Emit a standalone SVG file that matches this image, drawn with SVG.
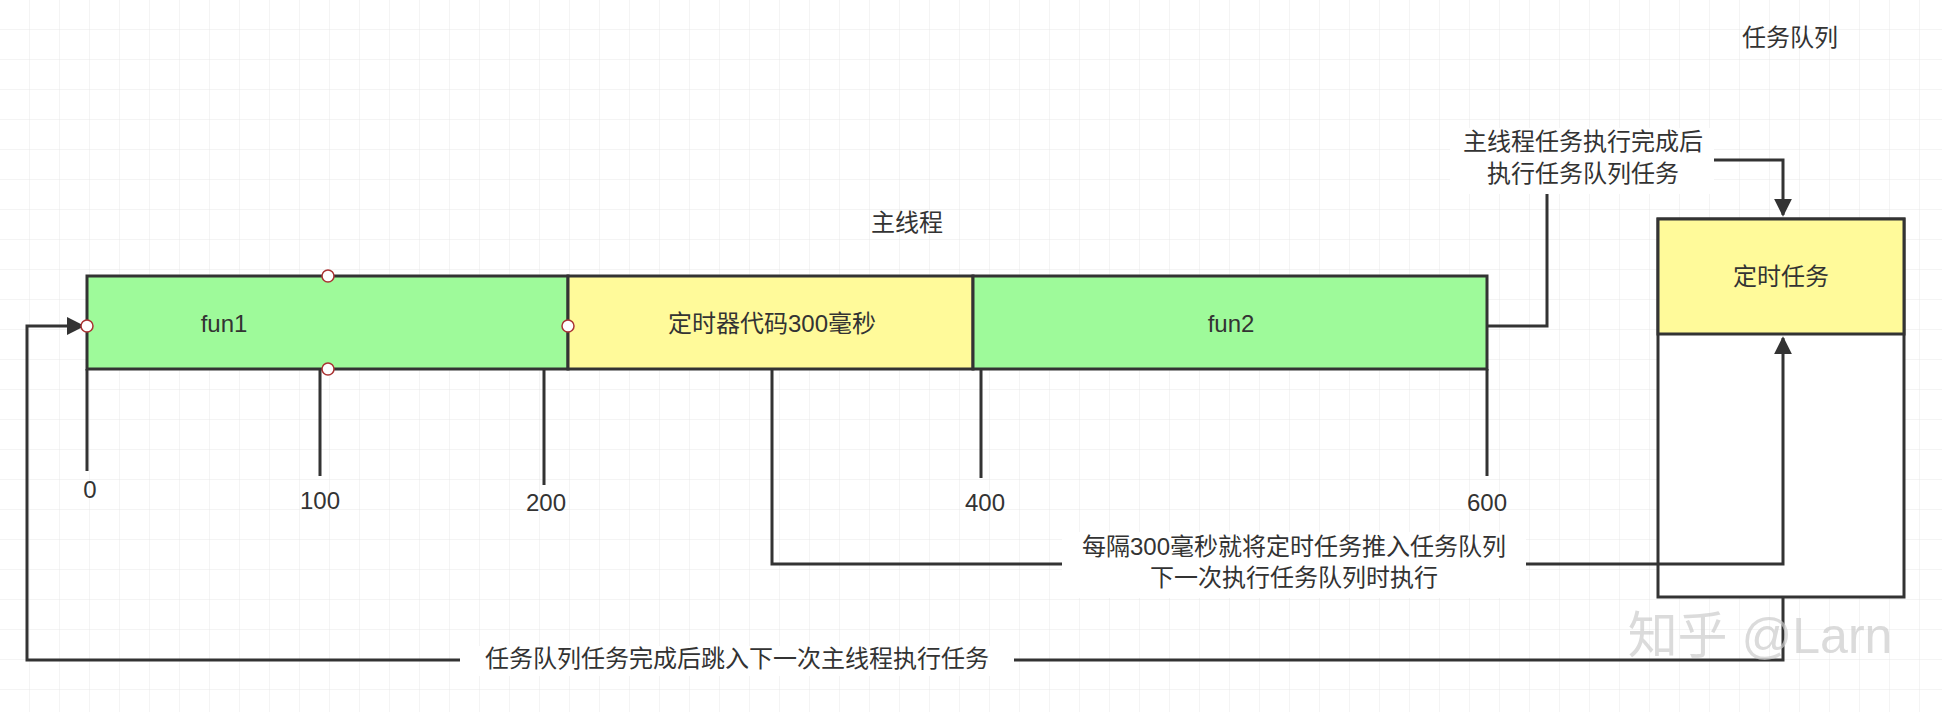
<svg xmlns="http://www.w3.org/2000/svg" width="1942" height="712" viewBox="0 0 1942 712">
<defs>
<pattern id="grid" width="30" height="30" patternUnits="userSpaceOnUse"><path d="M30 0V30M0 30H30" fill="none" stroke="#e8e8e8" stroke-width="1"/></pattern>
<marker id="arr" viewBox="0 0 10 10" refX="9" refY="5" markerWidth="6" markerHeight="6" orient="auto"><path d="M0,0L10,5L0,10z" fill="#333"/></marker>
<style>
text{font-family:"Liberation Sans","Noto Sans CJK SC",sans-serif;font-size:24px;fill:#333;text-anchor:middle;dominant-baseline:middle}
.box{stroke:#333;stroke-width:3}
.ln{fill:none;stroke:#333;stroke-width:3}
.pt{fill:#fff;stroke:#a33;stroke-width:1.5}
.bg{fill:#fff}
</style>
</defs>
<rect width="1942" height="712" fill="#fff"/>
<rect width="1942" height="712" fill="url(#grid)"/>
<text x="907" y="225">主线程</text>
<text x="1790" y="40">任务队列</text>
<g id="queue"><rect class="box" x="1658" y="219" width="246" height="378" fill="#fff"/><rect class="box" x="1658" y="219" width="246" height="115" fill="#fffa9a"/><text x="1781" y="279">定时任务</text></g>
<g id="connectors">
<path class="ln" d="M87 369V471M320 369V476M544 369V485M981 369V478M1487 369V476"/>
<path class="ln" d="M772 369V564H1783V338" marker-end="url(#arr)"/>
<path class="ln" d="M1487 326H1547V160H1783V215" marker-end="url(#arr)"/>
<path class="ln" d="M1783 597V660H27V326H83" marker-end="url(#arr)"/>
</g>
<g id="fun1"><rect class="box" x="87" y="276" width="481" height="93" fill="#9efa9a"/><text x="224" y="326">fun1</text></g>
<g id="timer"><rect class="box" x="568" y="276" width="405" height="93" fill="#fffa9a"/><text x="772" y="326">定时器代码300毫秒</text></g>
<g id="fun2"><rect class="box" x="973" y="276" width="514" height="93" fill="#9efa9a"/><text x="1231" y="326">fun2</text></g>
<g id="points"><circle class="pt" cx="328" cy="276" r="6"/><circle class="pt" cx="328" cy="369" r="6"/><circle class="pt" cx="87" cy="326" r="6"/><circle class="pt" cx="568" cy="326" r="6"/></g>
<g id="ticks"><text x="90" y="492">0</text><text x="320" y="503">100</text><text x="546" y="505">200</text><text x="985" y="505">400</text><text x="1487" y="505">600</text></g>
<g id="labels">
<rect class="bg" x="1450" y="128" width="264" height="66"/>
<text x="1583" y="144">主线程任务执行完成后</text><text x="1583" y="176">执行任务队列任务</text>
<rect class="bg" x="1062" y="532" width="464" height="66"/>
<text x="1294" y="549">每隔300毫秒就将定时任务推入任务队列</text><text x="1294" y="580">下一次执行任务队列时执行</text>
<rect class="bg" x="460" y="646" width="554" height="30"/>
<text x="737" y="661">任务队列任务完成后跳入下一次主线程执行任务</text>
</g>
<text x="1760" y="640" style="font-size:50px;fill:#ccc;opacity:0.7">知乎 @Larn</text>
</svg>
